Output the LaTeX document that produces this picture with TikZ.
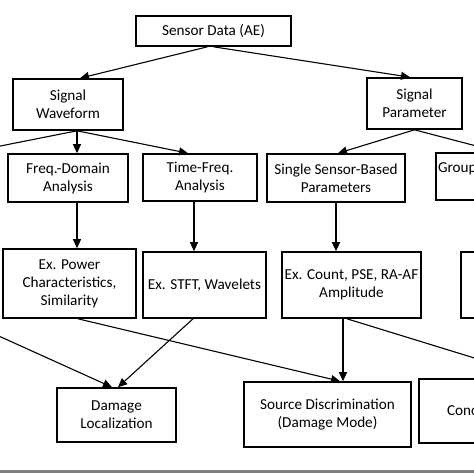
\documentclass[tikz,border=0pt]{standalone}
\usepackage{fontspec}
\setmainfont{Carlito}
\usepackage{tikz}
\usetikzlibrary{arrows.meta}
\tikzstyle{graph}=[x=1pt, y=-1pt, font=\fontsize{15.2}{18}\selectfont]
\tikzstyle{box}=[rectangle, draw, line width=1.6pt, fill=white, align=center, inner sep=2pt]
\tikzstyle{edge}=[line width=1.1pt, -{Triangle[length=9pt, width=8pt]}]
\tikzstyle{line}=[line width=1.1pt]
\tikzstyle{rule}=[line width=3pt, draw=black!50]

\begin{document}
\begin{tikzpicture}[graph]
	\useasboundingbox (0,0) rectangle (474,474);
	\clip (0,0) rectangle (474,474);
	% levels 1 and 2
	\draw (213.5,31) node[box, minimum width=155, minimum height=30] (data) {Sensor Data (AE)};
	\draw (68,104.5) node[box, minimum width=110, minimum height=51] (wave) {Signal\\Waveform};
	\draw (414.5,103.5) node[box, minimum width=95, minimum height=51] (param) {Signal\\Parameter};
	% level 3
	\draw (68,178) node[box, minimum width=120, minimum height=48] (freq) {Freq.-Domain\\Analysis};
	\draw (200,177.5) node[box, minimum width=114, minimum height=47] (tf) {Time-Freq.\\Analysis};
	\draw (336,178) node[box, minimum width=138, minimum height=48] (single) {Single Sensor-Based\\Parameters};
	\draw (510,176.5) node[box, minimum height=47, text width=144, align=left] (group) {Group\\\mbox{}};
	% level 4
	\draw (69.5,283.5) node[box, minimum width=133, minimum height=69] (power) {Ex. Power\\Characteristics,\\Similarity};
	\draw (204.5,285) node[box, minimum width=123, minimum height=66] (stft) {Ex. STFT, Wavelets};
	\draw (351.5,285) node[box, minimum width=139, minimum height=66] (count) {Ex. Count, PSE, RA-AF\\Amplitude};
	\draw (520,285) node[box, minimum width=118, minimum height=66] (more) {};
	% level 5
	\draw (116.5,415) node[box, minimum width=119, minimum height=54] (loc) {Damage\\Localization};
	\draw (327.5,414.5) node[box, minimum width=167, minimum height=65] (disc) {Source Discrimination\\(Damage Mode)};
	\draw (500,411) node[box, minimum height=64, inner xsep=28pt, text width=106, align=left] (conc) {Conc};
	% ends outside the frame
	\coordinate (outA) at (-30,152);
	\coordinate (outB) at (-30,323);
	% connectors
	\draw[edge] ([xshift=-6pt]data.south) -- ([xshift=12pt]wave.north);
	\draw[edge] (data.south) -- ([xshift=-4.5pt]param.north);
	\draw[edge] ([xshift=9pt]wave.south) -- ([xshift=9pt]freq.north);
	\draw[edge] ([xshift=9pt]wave.south) -- ([xshift=-12pt]tf.north);
	\draw[line] ([xshift=9pt]wave.south) -- (outA);
	\draw[edge] (param.south) -- ([xshift=2pt]single.north);
	\draw[line] (param.south) -- ([xshift=-10pt]group.north);
	\draw[edge] ([xshift=9pt]freq.south) -- ([xshift=7.5pt]power.north);
	\draw[edge] ([xshift=-6pt]tf.south) -- ([xshift=-10.5pt]stft.north);
	\draw[edge] (single.south) -- ([xshift=-15.5pt]count.north);
	\draw[edge] ([xshift=8.5pt]power.south) -- ([xshift=12.5pt]disc.north);
	\draw[edge] ([xshift=-11.5pt]stft.south) -- ([xshift=1.5pt]loc.north);
	\draw[edge] (outB) -- ([xshift=-4.5pt]loc.north);
	\draw[edge] ([xshift=-8.5pt]count.south) -- ([xshift=15.5pt]disc.north);
	\draw[line] ([xshift=-4.5pt]count.south) -- ([xshift=40pt]conc.north);
	\draw[rule] (0,471.5) -- (474,471.5);
\end{tikzpicture}
\end{document}
